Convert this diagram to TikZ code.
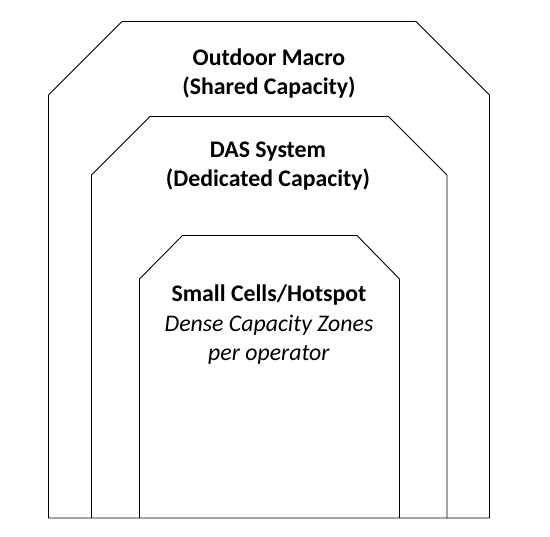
\documentclass[tikz,border=0pt]{standalone}
\usepackage{fontspec}
\setmainfont{Carlito}
\begin{document}
\begin{tikzpicture}[x=1pt,y=-1pt,
  wall/.style={draw=black,line width=0.9pt,line join=miter},
  lbl/.style={align=center,font=\fontsize{23.8}{29.5}\selectfont,inner sep=0pt}]
\useasboundingbox (0,0) rectangle (550,537);
% outer
\draw[wall] (48.5,518) -- (48.5,95) -- (122,21.5) -- (416,21.5) -- (489.5,95) -- (489.5,518) -- cycle;
% middle
\draw[wall] (91.5,518) -- (91.5,175) -- (150,116.5) -- (388.5,116.5) -- (447,175) -- (447,518);
% inner
\draw[wall] (139.5,518) -- (139.5,279) -- (182.5,235.5) -- (357,235.5) -- (399.5,279) -- (399.5,518);
\node[lbl] (outer) at (269,73.5) {\textbf{Outdoor Macro}\\\textbf{(Shared Capacity)}};
\node[lbl] (das) at (268,166) {\textbf{DAS System}\\\textbf{(Dedicated Capacity)}};
\node[lbl] (small) at (269,325) {\textbf{Small Cells/Hotspot}\\\textit{Dense Capacity Zones}\\\textit{per operator}};
\end{tikzpicture}
\end{document}
